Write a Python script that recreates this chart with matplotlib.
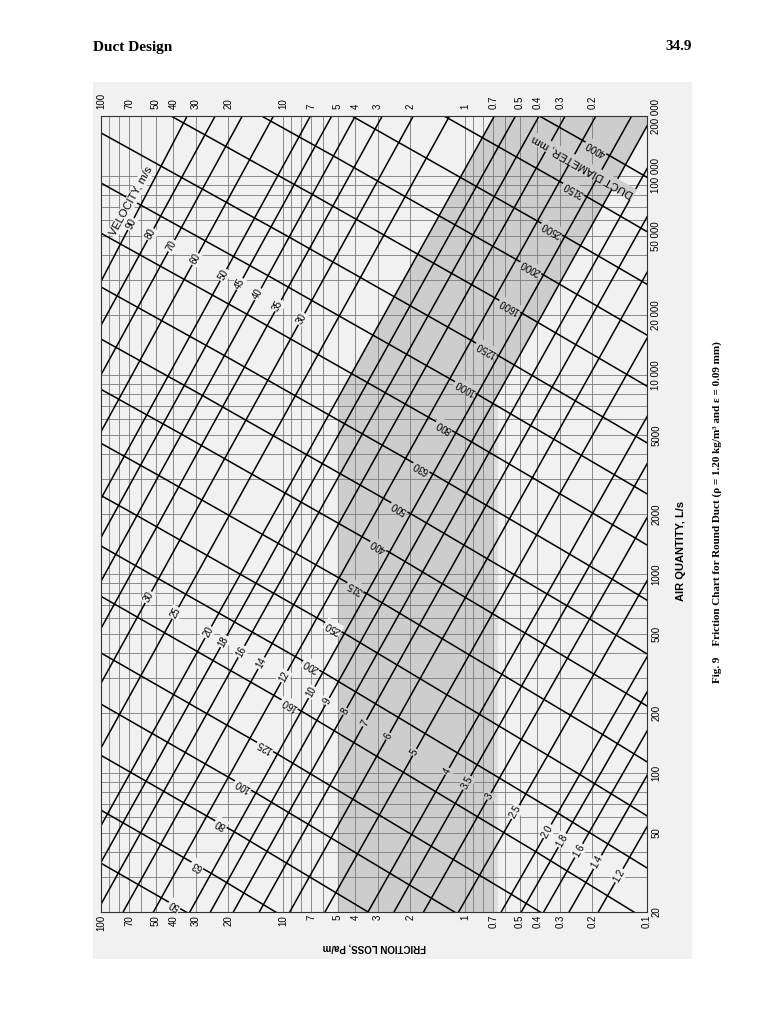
import numpy as np
import matplotlib
matplotlib.use("Agg")
import matplotlib.pyplot as plt
from matplotlib.ticker import FixedLocator, FuncFormatter, LogLocator, NullFormatter, NullLocator
from matplotlib.patches import Rectangle, Polygon
from matplotlib.transforms import blended_transform_factory

plt.rcParams['font.family'] = ['Liberation Sans', 'DejaVu Sans']
SERIF = ['Liberation Serif', 'DejaVu Serif']

# --- values: friction loss (Pa/m) and air quantity (L/s) ---

fric_ticks = [100, 70, 50, 40, 30, 20, 10, 7, 5, 4, 3, 2, 1, 0.7, 0.5, 0.4, 0.3, 0.2, 0.1]
fric_ticks_top = [100, 70, 50, 40, 30, 20, 10, 7, 5, 4, 3, 2, 1, 0.7, 0.5, 0.4, 0.3, 0.2]
flow_ticks = [20, 50, 100, 200, 500, 1000, 2000, 5000, 10000, 20000, 50000, 100000, 200000]

# duct diameter lines (mm): points (friction, flow) along each line
diam_mm = [50, 63, 80, 100, 125, 160, 200, 250, 315, 400,
           500, 630, 800, 1000, 1250, 1600, 2000, 2500, 3150, 4000]
diam_friction = [
    [1.750, 32.89, 463.2],
    [1.311, 24.64, 347.0],
    [0.9725, 18.28, 257.4],
    [0.7358, 13.83, 194.8],
    [0.3333, 0.5567, 10.46, 147.4],
    [0.08036, 0.1192, 0.4089, 7.684, 108.2],
    [0.09021, 0.3094, 5.814, 104.6],
    [0.06826, 0.2341, 4.399, 63.41, 140.4],
    [0.05113, 0.1753, 3.334, 47.98, 106.3],
    [0.07788, 0.1301, 2.498, 35.98, 108.0],
    [0.05892, 0.0984, 0.2037, 1.908, 27.52, 107.5],
    [0.0737, 0.1537, 1.444, 20.85, 102.9],
    [0.0547, 0.1151, 1.084, 15.66, 115.0],
    [0.0419, 0.0879, 0.829, 12.00, 104.7],
    [0.0672, 0.6345, 9.193, 109.0],
    [0.0849, 0.4723, 6.853, 41.7],
    [0.0983, 0.3619, 5.258, 15.81],
    [0.0753, 0.2775, 4.036, 5.086],
    [0.0804, 0.2108, 3.072],
    [0.0809, 0.1588, 2.318],
]
diam_flow = [
    [3.927, 19.63, 78.54],
    [6.234, 31.17, 124.7],
    [10.05, 50.27, 201.1],
    [15.71, 78.54, 314.2],
    [18.41, 24.54, 122.7, 490.9],
    [16.08, 20.11, 40.21, 201.1, 804.2],
    [31.42, 62.83, 314.2, 1414],
    [49.09, 98.17, 490.9, 1963, 2945],
    [77.93, 155.9, 779.3, 3117, 4676],
    [188.5, 251.3, 1257, 5027, 8796],
    [294.5, 392.7, 589.0, 1963, 7854, 15708],
    [623.5, 935.2, 3117, 12469, 28055],
    [1005, 1508, 5027, 20106, 55292],
    [1571, 2356, 7854, 31416, 94248],
    [3682, 12272, 49087, 171806],
    [8042, 20106, 80425, 201062],
    [15708, 31416, 125664, 219912],
    [24544, 49087, 196350, 220893],
    [46758, 77931, 311725],
    [87965, 125664, 502655],
]
# where the diameter labels sit (flow, L/s)
diam_label_q = [21.6, 34.3, 55.3, 86.4, 135, 221, 346, 540, 857, 1382,
                2160, 3429, 5529, 8639, 13500, 22120, 34560, 54000, 85720, 138200]

# velocity lines (m/s): two points (friction, flow) per line
vel_ms = [1.2, 1.4, 1.6, 1.8, 2.0, 2.5, 3, 3.5, 4, 5, 6, 7, 8, 9, 10,
          12, 14, 16, 18, 20, 25, 30, 35, 40, 45, 50, 60, 70, 80, 90]
vel_text = ['1.2', '1.4', '1.6', '1.8', '2.0', '2.5', '3', '3.5', '4', '5', '6', '7', '8', '9', '10',
            '12', '14', '16', '18', '20', '25', '30', '35', '40', '45', '50', '60', '70', '80', '90']
vel_friction = [
    [0.2243, 0.0943], [0.2948, 0.0929], [0.3739, 0.0874], [0.6096, 0.0815], [0.7358, 0.0984],
    [1.097, 0.0825], [2.013, 0.0879], [2.659, 0.0892], [4.566, 0.0849], [6.853, 0.0983],
    [9.569, 0.0804], [16.97, 0.0809], [21.72, 0.0799], [27.03, 0.0805], [32.89, 0.0984],
    [61.16, 0.1728], [81.76, 0.2321], [105.3, 0.3904], [131.6, 0.4899], [121.7, 0.6005],
    [103.7, 0.9257], [111.5, 1.750], [113.7, 2.365], [108.2, 3.072], [104.6, 5.086],
    [128.5, 6.255], [106.3, 8.954], [108.0, 15.81], [107.5, 20.58], [102.9, 25.98],
]
vel_flow = [
    [14.73, 58.9], [17.18, 109.1], [19.63, 201.1], [14.14, 353.4], [15.71, 392.7],
    [19.63, 1257], [15.08, 2356], [17.59, 4295], [12.47, 8042], [15.59, 15708],
    [18.70, 46758], [13.74, 87965], [15.71, 157080], [17.67, 254470], [19.63, 282744],
    [15.08, 235620], [17.59, 274890], [20.11, 201062], [22.62, 226195], [39.27, 251327],
    [125.7, 314160], [235.6, 233794], [429.5, 272760], [804.2, 311725], [1414, 220893],
    [1571, 245437], [4676, 294525], [8796, 219912], [15708, 251328], [28055, 314160],
]
# velocity labels: lower row and upper row (flow, L/s)
vel_low_text = ['1.2', '1.4', '1.6', '1.8', '2.0', '2.5', '3', '3.5', '4', '5', '6', '7',
                '8', '9', '10', '12', '14', '16', '18', '20', '25', '30']
vel_low_q = [30.5, 35.6, 40.7, 45.8, 50.9, 63.6, 76.3, 89.1, 102, 127, 153, 178,
             204, 229, 254, 305, 356, 407, 458, 509, 636, 763]
vel_high_text = ['30', '35', '40', '45', '50', '60', '70', '80', '90']
vel_high_q = [19090, 22270, 25450, 28630, 31810, 38170, 44530, 50890, 57260]

# shaded design range
band_friction = [0.7, 5.0]
band_velocity = [9, 20]

BG = '#f1f1f1'
BAND = '#cdcdcd'


def q_at_friction(f, fr, fl):
    lf = np.log10(fr)
    lq = np.log10(fl)
    o = np.argsort(lf)
    return 10 ** np.interp(np.log10(f), lf[o], lq[o])


def friction_at_flow(q, fr, fl):
    lf = np.log10(fr)
    lq = np.log10(fl)
    o = np.argsort(lq)
    return 10 ** np.interp(np.log10(q), lq[o], lf[o])


def in_band(f, v):
    if f > band_friction[1] or v > band_velocity[1]:
        return False
    return f >= band_friction[0] or v >= band_velocity[0]


fig = plt.figure(figsize=(7.68, 10.24), dpi=100)
page = Rectangle((93 / 768, 1 - 959 / 1024), 599 / 768, 877 / 1024,
                 transform=fig.transFigure, fc=BG, ec='none', zorder=-5)
fig.add_artist(page)

ax = fig.add_axes([101 / 768, 1 - 912 / 1024, 546 / 768, 796 / 1024])
ax.set_zorder(2)
ax.set_facecolor(BG)
ax.set_xscale('log')
ax.set_yscale('log')
ax.set_xlim(100, 0.1)
ax.set_ylim(20, 200000)

# siatka
ax.xaxis.set_major_locator(FixedLocator(fric_ticks))
ax.xaxis.set_major_formatter(FuncFormatter(lambda v, p: '%g' % v))
ax.xaxis.set_minor_locator(LogLocator(base=10, subs=np.arange(1, 10), numticks=60))
ax.xaxis.set_minor_formatter(NullFormatter())
ax.yaxis.set_major_locator(FixedLocator(flow_ticks))
ax.yaxis.set_major_formatter(FuncFormatter(
    lambda v, p: f'{int(round(v)):,}'.replace(',', ' ') if v >= 10000 else str(int(round(v)))))
ax.yaxis.set_minor_locator(LogLocator(base=10, subs=np.arange(1, 10), numticks=60))
ax.yaxis.set_minor_formatter(NullFormatter())
ax.set_axisbelow(True)
ax.grid(True, which='both', color='#7a7a7a', lw=0.6)
ax.tick_params(which='both', length=0)
ax.tick_params(axis='x', labelrotation=90, labelsize=7, pad=2)
ax.yaxis.tick_right()
ax.tick_params(axis='y', labelrotation=90, labelsize=7, pad=3)
plt.setp(ax.get_yticklabels(), va='center')
for s in ax.spines.values():
    s.set_color('#333333')
    s.set_linewidth(0.8)

sec = ax.secondary_xaxis('top')
sec.xaxis.set_major_locator(FixedLocator(fric_ticks_top))
sec.xaxis.set_major_formatter(FuncFormatter(lambda v, p: '%g' % v))
sec.xaxis.set_minor_locator(NullLocator())
sec.tick_params(length=0, labelrotation=90, labelsize=7, pad=5)
sec.spines['top'].set_visible(False)

# shaded region
i20 = vel_ms.index(band_velocity[1])
i9 = vel_ms.index(band_velocity[0])
fr20, fl20 = vel_friction[i20], vel_flow[i20]
fr9, fl9 = vel_friction[i9], vel_flow[i9]
qa = q_at_friction(band_friction[1], fr20, fl20)
ftop = friction_at_flow(200000, fr20, fl20)
qb = q_at_friction(0.1, fr9, fl9)
qc = q_at_friction(band_friction[0], fr9, fl9)
band = Polygon([(band_friction[1], 20), (band_friction[1], qa), (ftop, 200000), (0.1, 200000),
                (0.1, qb), (band_friction[0], qc), (band_friction[0], 20)],
               closed=True, fc=BAND, ec='none', zorder=0.2)
ax.add_patch(band)
ax.add_patch(Rectangle((0.66, 20), band_friction[0] - 0.66, qc - 20, fc='#dedede', ec='none', zorder=0.2))

# lines
for fr, fl in zip(diam_friction, diam_flow):
    ax.plot(fr, fl, color='black', lw=1.1, zorder=2)
for fr, fl in zip(vel_friction, vel_flow):
    ax.plot(fr, fl, color='black', lw=1.1, zorder=2)


def line_angle(fr, fl):
    p = ax.transData.transform(np.column_stack([[fr[0], fr[-1]], [fl[0], fl[-1]]]))
    return np.degrees(np.arctan2(p[1, 1] - p[0, 1], p[1, 0] - p[0, 0]))


def put_label(f, q, txt, ang, bgc, size=7):
    ax.text(f, q, txt, rotation=ang, rotation_mode='anchor', ha='center', va='center',
            fontsize=size, zorder=4,
            bbox=dict(boxstyle='square,pad=0.12', fc=bgc, ec='none'))


for d, fr, fl, q in zip(diam_mm, diam_friction, diam_flow, diam_label_q):
    f = friction_at_flow(q, fr, fl)
    put_label(f, q, str(d), line_angle(fr, fl), BAND if in_band(f, 11) else BG)

for txt, q in zip(vel_low_text + vel_high_text, vel_low_q + vel_high_q):
    i = vel_text.index(txt)
    f = friction_at_flow(q, vel_friction[i], vel_flow[i])
    put_label(f, q, txt, line_angle(vel_friction[i], vel_flow[i]),
              BAND if in_band(f, vel_ms[i]) else BG)

ang_v = line_angle(vel_friction[vel_ms.index(10)], vel_flow[vel_ms.index(10)])
ang_d = line_angle(diam_friction[-1], diam_flow[-1])
ax.text(68.4, 74800, 'VELOCITY, m/s', rotation=ang_v, rotation_mode='anchor',
        ha='center', va='center', fontsize=8, zorder=4,
        bbox=dict(boxstyle='square,pad=0.1', fc=BG, ec='none'))
ax.text(0.225, 112200, 'DUCT DIAMETER, mm', rotation=ang_d, rotation_mode='anchor',
        ha='center', va='center', fontsize=8, zorder=4,
        bbox=dict(boxstyle='square,pad=0.1', fc=BAND, ec='none'))

# axis titles
tr = blended_transform_factory(ax.transAxes, ax.transData)
ax.text(1.062, 1300, 'AIR QUANTITY, L/s', transform=tr, rotation=90, ha='center', va='center',
        fontsize=8, fontweight='bold')
ax.text(0.5, -0.044, 'FRICTION LOSS, Pa/m', transform=ax.transAxes, rotation=180,
        ha='center', va='center', fontsize=7, fontweight='bold')

# page header and caption
fig.text(93 / 768, 1 - 47 / 1024, 'Duct Design', family=SERIF, fontweight='bold',
         fontsize=11, ha='left', va='center')
fig.text(692 / 768, 1 - 47 / 1024, '34.9', family=SERIF, fontweight='bold',
         fontsize=11, ha='right', va='center')
fig.text(717 / 768, 0.50,
         'Fig. 9    Friction Chart for Round Duct (\u03c1 = 1.20 kg/m\u00b3 and \u03b5 = 0.09 mm)',
         family=SERIF, fontweight='bold', fontsize=8, rotation=90, ha='center', va='center')

fig.savefig('out.png', dpi=100)
